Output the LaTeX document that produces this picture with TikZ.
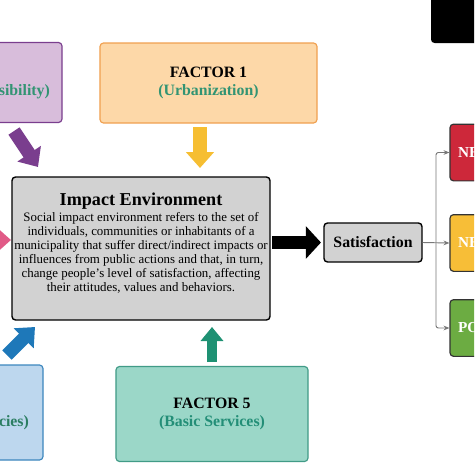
\documentclass[tikz,border=0pt]{standalone}
\usepackage{fontspec}
\setmainfont{Liberation Serif}
\usepackage{tikz}
\usepackage{xcolor}
\usetikzlibrary{arrows.meta,positioning,calc}

\definecolor{purplefill}{RGB}{216,189,219}
\definecolor{purpleline}{RGB}{122,62,142}
\definecolor{orangefill}{RGB}{253,216,168}
\definecolor{orangeline}{RGB}{240,160,80}
\definecolor{yellowarrow}{RGB}{246,190,50}
\definecolor{grayfill}{RGB}{210,210,210}
\definecolor{bluefill}{RGB}{189,215,238}
\definecolor{blueline}{RGB}{60,135,190}
\definecolor{bluearrow}{RGB}{30,120,185}
\definecolor{tealfill}{RGB}{155,215,200}
\definecolor{tealline}{RGB}{65,155,135}
\definecolor{tealarrow}{RGB}{30,145,115}
\definecolor{pinkarrow}{RGB}{225,90,135}
\definecolor{subtext}{RGB}{50,148,115}
\definecolor{negred}{RGB}{205,40,58}
\definecolor{neuyellow}{RGB}{247,190,55}
\definecolor{posgreen}{RGB}{108,172,66}
\definecolor{linkgray}{RGB}{120,120,120}

\tikzset{
    factorbox/.style={draw, rounded corners=3pt, line width=1pt, inner sep=0pt,
        align=center, font=\fontsize{13.5}{15}\selectfont\bfseries},
    graybox/.style={draw=black, fill=grayfill, rounded corners=3pt, line width=1.2pt, inner sep=0pt},
    levelbox/.style={draw=black!80, rounded corners=3pt, line width=1pt, inner sep=0pt,
        minimum width=2.7cm, minimum height=1.7cm},
    leveltext/.style={anchor=west, text=white, font=\fontsize{13}{15}\selectfont\bfseries},
    fatarrow/.style={line width=0.4cm, -{Triangle[width=0.82cm,length=0.48cm]}},
    link/.style={draw=linkgray, line width=0.8pt, -{Stealth[length=5pt,width=4pt]}, rounded corners=2pt}
}

\begin{document}
\begin{tikzpicture}[x=0.03cm, y=-0.03cm]
    \useasboundingbox (0,0) rectangle (474,474);
    \clip (0,0) rectangle (474,474);

    % Factor boxes
    \node[factorbox, fill=purplefill, draw=purpleline, minimum width=4.86cm, minimum height=2.4cm] (fac2) at (-19,82.5) {};
    \node[anchor=east, text=subtext, font=\fontsize{13.5}{15}\selectfont\bfseries] (fac2txt) at (54,92) {ssibility)};

    \node[factorbox, fill=orangefill, draw=orangeline, minimum width=6.51cm, minimum height=2.4cm] (fac1) at (208.5,83)
        {FACTOR 1\\[0pt] \textcolor{subtext}{(Urbanization)}};

    \node[factorbox, fill=bluefill, draw=blueline, minimum width=4.29cm, minimum height=2.85cm] (fac4) at (-28.5,412.5) {};
    \node[anchor=east, text=subtext!85!black, font=\fontsize{13.5}{15}\selectfont\bfseries] (fac4txt) at (33,423) {cies)};

    \node[factorbox, fill=tealfill, draw=tealline, minimum width=5.76cm, minimum height=2.85cm] (fac5) at (212,414)
        {FACTOR 5\\[0pt] \textcolor{subtext!70!teal}{(Basic Services)}};

    % Central box
    \node[graybox, minimum width=7.74cm, minimum height=4.29cm] (impact) at (141,248.5) {};
    \node[align=center, font=\fontsize{11}{11.9}\selectfont] (impacttxt) at (141,243)
        {{\fontsize{15.5}{17}\selectfont\bfseries Impact Environment}\\[2pt]
         Social impact environment refers to the set of\\
         individuals, communities or inhabitants of a\\
         municipality that suffer direct/indirect impacts or\\
         influences from public actions and that, in turn,\\
         change people's level of satisfaction, affecting\\
         their attitudes, values and behaviors.};

    \node[graybox, minimum width=2.94cm, minimum height=1.17cm, font=\fontsize{13.5}{15}\selectfont\bfseries] (sat) at (373,242.5) {Satisfaction};

    % Satisfaction levels
    \node[levelbox, fill=negred] (neg) at (495,152.5) {};
    \node[leveltext] at (454,153) {NE};
    \node[levelbox, fill=neuyellow] (neu) at (495,243) {};
    \node[leveltext] at (454,243) {NE};
    \node[levelbox, fill=posgreen] (pos) at (495,328) {};
    \node[leveltext] at (454,328) {PO};

    % Top right corner block
    \fill[black, rounded corners=3pt] (431,-10) rectangle (500,43);

    % Block arrows
    \coordinate (a2s) at (14,131);  \coordinate (a2e) at (38,167);
    \coordinate (a1s) at (200,127); \coordinate (a1e) at (200,168);
    \coordinate (a3s) at (-30,240); \coordinate (a3e) at (11,240);
    \coordinate (a4s) at (7,355);   \coordinate (a4e) at (35,327);
    \coordinate (a5s) at (212,362); \coordinate (a5e) at (212,327);
    \coordinate (a6s) at (272,242.5);
    \draw[fatarrow, purpleline] (a2s) -- (a2e);
    \draw[fatarrow, yellowarrow] (a1s) -- (a1e);
    \draw[fatarrow, pinkarrow] (a3s) -- (a3e);
    \draw[fatarrow, bluearrow] (a4s) -- (a4e);
    \draw[fatarrow, tealarrow, line width=0.3cm, -{Triangle[width=0.66cm,length=0.42cm]}] (a5s) -- (a5e);
    \draw[black, line width=0.4cm, -{Triangle[width=0.95cm,length=0.45cm]}] (a6s) -- ([xshift=-2]sat.west);

    % Gray links
    \coordinate (split) at (436,242.5);
    \draw[link] (sat.east) -- (neu.west);
    \draw[link] (split) |- (neg.west);
    \draw[link] (split) |- (pos.west);
\end{tikzpicture}
\end{document}
